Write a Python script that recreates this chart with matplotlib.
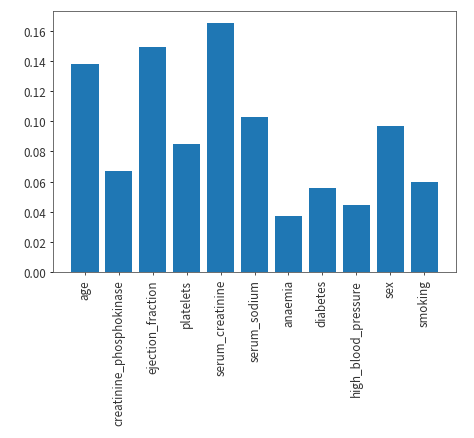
import matplotlib
matplotlib.use("Agg")
import matplotlib.pyplot as plt

# feature importances
FEATURES = ["age", "creatinine_phosphokinase", "ejection_fraction", "platelets",
            "serum_creatinine", "serum_sodium", "anaemia", "diabetes",
            "high_blood_pressure", "sex", "smoking"]
IMPORTANCE = [0.138, 0.067, 0.149, 0.085, 0.165, 0.103, 0.037, 0.056, 0.0445, 0.097, 0.0595]

plt.rcParams["font.family"] = ["Noto Sans CJK KR", "DejaVu Sans"]
plt.rcParams["font.size"] = 8.4
plt.rcParams["axes.linewidth"] = 0.6
plt.rcParams["xtick.major.width"] = 0.6
plt.rcParams["ytick.major.width"] = 0.6
plt.rcParams["xtick.major.size"] = 2.5
plt.rcParams["ytick.major.size"] = 2.5

fig = plt.figure(figsize=(4.74, 4.39), dpi=100)
ax = fig.add_axes([0.112, 0.378, 0.850, 0.595])
ax.bar(FEATURES, IMPORTANCE, color="#1f77b4")
ax.set_yticks([0.00, 0.02, 0.04, 0.06, 0.08, 0.10, 0.12, 0.14, 0.16])
ax.set_yticklabels([f"{v:.2f}" for v in ax.get_yticks()], color="#333333")
ax.tick_params(axis="x", labelrotation=90, colors="#333333")
ax.tick_params(axis="both", pad=2.5)
for sp in ax.spines.values():
    sp.set_color("#555555")

fig.savefig("out.png", dpi=100)
